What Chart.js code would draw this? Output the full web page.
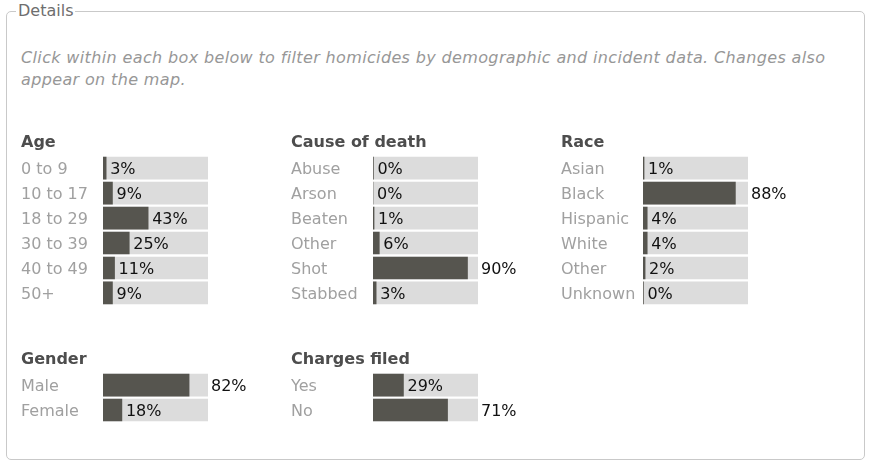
<!DOCTYPE html>
<html>
<head>
<meta charset="utf-8">
<script src="https://cdn.jsdelivr.net/npm/chart.js@4.4.1/dist/chart.umd.min.js"></script>
<style>
  body { margin: 0; background: #fff; font-family: "DejaVu Sans", sans-serif; }
  #box { position: absolute; left: 6px; top: 11px; width: 857px; height: 447px;
         border: 1px solid #c9c9c9; border-radius: 5px; }
  #legend { position: absolute; left: 16px; top: 1px; padding: 0 2px; background: #fff;
            color: #6e6e6e; font-size: 16px; line-height: 20px; }
  #intro { position: absolute; left: 21px; top: 47px; width: 830px; margin: 0;
           color: #979797; font-style: italic; font-size: 16px; letter-spacing: 0.36px;
           line-height: 22px; }
  canvas { position: absolute; }
</style>
</head>
<body>
<div id="box"></div>
<div id="legend">Details</div>
<p id="intro">Click within each box below to filter homicides by demographic and incident data. Changes also appear on the map.</p>

<canvas id="ageChart" width="250" height="182" style="left:21px;top:133px"></canvas>
<canvas id="causeChart" width="250" height="182" style="left:291px;top:133px"></canvas>
<canvas id="raceChart" width="250" height="182" style="left:561px;top:133px"></canvas>
<canvas id="genderChart" width="250" height="82" style="left:21px;top:350px"></canvas>
<canvas id="chargesChart" width="250" height="82" style="left:291px;top:350px"></canvas>

<script>
const ageLabels = ['0 to 9', '10 to 17', '18 to 29', '30 to 39', '40 to 49', '50+'];
const ageValues = [3, 9, 43, 25, 11, 9];

const causeLabels = ['Abuse', 'Arson', 'Beaten', 'Other', 'Shot', 'Stabbed'];
const causeValues = [0.4, 0, 1, 6, 90, 3];

const raceLabels = ['Asian', 'Black', 'Hispanic', 'White', 'Other', 'Unknown'];
const raceValues = [1, 88, 4, 4, 2, 0.4];

const genderLabels = ['Male', 'Female'];
const genderValues = [82, 18];

const chargesLabels = ['Yes', 'No'];
const chargesValues = [29, 71];

const FONT = '"DejaVu Sans", sans-serif';

// writes the percent next to each bar, outside the grey track when it won't fit
const pctLabels = {
    id: 'pctLabels',
    afterDatasetsDraw(chart) {
        const ctx = chart.ctx;
        const meta = chart.getDatasetMeta(0);
        const trackEnd = chart.scales.x.getPixelForValue(100);
        ctx.save();
        ctx.font = '16px ' + FONT;
        ctx.fillStyle = '#111';
        ctx.textBaseline = 'middle';
        ctx.textAlign = 'left';
        meta.data.forEach((bar, i) => {
            const txt = Math.round(chart.data.datasets[0].data[i]) + '%';
            const w = ctx.measureText(txt).width;
            let x = bar.x + 4;
            if (x + w > trackEnd) x = trackEnd + 3;
            ctx.fillText(txt, x, bar.y + 2);
        });
        ctx.restore();
    }
};

function makeChart(id, title, labels, values) {
    return new Chart(document.getElementById(id), {
        type: 'bar',
        data: {
            labels: labels,
            datasets: [{
                data: values,
                backgroundColor: '#56554f',
                barThickness: 22,
                grouped: false,
                order: 0
            }, {
                data: labels.map(() => 100),
                backgroundColor: '#dcdcdc',
                barThickness: 22,
                grouped: false,
                order: 1
            }]
        },
        options: {
            indexAxis: 'y',
            responsive: false,
            animation: false,
            devicePixelRatio: 1,
            layout: { padding: { left: 0, right: 63, top: 0, bottom: 0 } },
            plugins: {
                legend: { display: false },
                tooltip: { enabled: false },
                title: {
                    display: true,
                    text: title,
                    align: 'start',
                    color: '#4d4d4d',
                    font: { family: FONT, size: 16, weight: 'bold', lineHeight: 1.2 },
                    padding: { top: 0, bottom: 3.5 }
                }
            },
            scales: {
                x: { display: false, min: 0, max: 100 },
                y: {
                    grid: { display: false },
                    border: { display: false },
                    afterFit(scale) { scale.width = 82; },
                    ticks: {
                        crossAlign: 'far',
                        autoSkip: false,
                        color: '#a0a0a0',
                        padding: 0,
                        labelOffset: 2,
                        font: { family: FONT, size: 16 }
                    }
                }
            }
        },
        plugins: [pctLabels]
    });
}

makeChart('ageChart', 'Age', ageLabels, ageValues);
makeChart('causeChart', 'Cause of death', causeLabels, causeValues);
makeChart('raceChart', 'Race', raceLabels, raceValues);
makeChart('genderChart', 'Gender', genderLabels, genderValues);
makeChart('chargesChart', 'Charges filed', chargesLabels, chargesValues);
</script>
</body>
</html>
